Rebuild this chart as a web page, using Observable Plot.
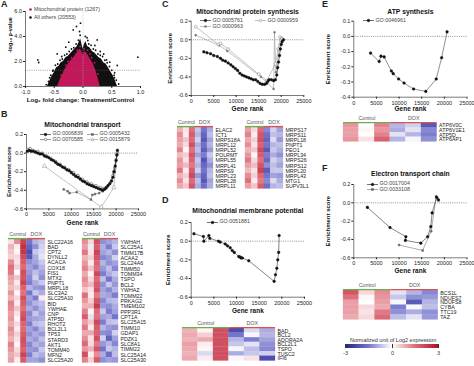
<!DOCTYPE html>
<html><head><meta charset="utf-8">
<script src="https://cdn.jsdelivr.net/npm/d3@7"></script>
<script src="https://cdn.jsdelivr.net/npm/@observablehq/plot@0.6"></script>
<style>
body{margin:0;background:#fff;}
#root{position:relative;width:474px;height:366px;overflow:hidden;font-family:"Liberation Sans",Arial,sans-serif;color:#222;}
.letter{position:absolute;font-weight:bold;font-size:9px;line-height:1;}
.leg{position:absolute;font-size:5.3px;color:#444;line-height:1;white-space:nowrap;display:flex;align-items:center;}
.leg svg{margin-right:1.5px;overflow:visible;}
.cbtitle{position:absolute;font-size:5.5px;color:#333;white-space:nowrap;line-height:1;}
</style></head>
<body><div id="root"></div>
<script>
// ---------------- DATA ----------------
// Panel A: volcano plot (envelope of the dense point cloud + individual scattered points)
const volcX      = [-0.62,-0.58,-0.54,-0.5,-0.46,-0.42,-0.38,-0.34,-0.3,-0.26,-0.22,-0.18,-0.14,-0.1,-0.07,-0.04,-0.02,0,0.02,0.05,0.08,0.12,0.16,0.2,0.24,0.28,0.32,0.36,0.4,0.44,0.48,0.52,0.56,0.6];
const volcBlackY = [0,0.4,0.8,1.1,1.5,1.6,1.9,2.0,2.3,2.4,2.6,2.8,3.0,3.2,3.5,3.8,3.4,3.0,3.3,3.6,3.2,3.1,2.8,2.7,2.5,2.3,2.2,1.9,1.8,1.5,1.2,0.9,0.5,0];
const pinkX      = [-0.44,-0.4,-0.36,-0.32,-0.28,-0.24,-0.2,-0.16,-0.12,-0.08,-0.05,-0.02,0,0.03,0.06,0.1,0.14,0.18,0.22,0.26,0.3];
const pinkY      = [0,0.5,0.9,1.3,1.6,1.9,2.1,2.3,2.6,2.8,3.0,2.8,2.5,2.8,2.7,2.4,2.1,1.8,1.3,0.7,0];
const blackPts = [[-0.786,2.13],[-0.77,1.92],[-0.525,1.23],[0.953,2.35],[0.595,1.68],[0.548,0.7],[0.466,1.95],[0.409,2.13],[0.247,3.73],[0.206,3.28],[-0.17,4.53],[-0.043,5.07],[-0.113,4.8],[-0.449,2.61],[-0.3,3.15],[-0.247,3.55],[0.084,3.68],[0.13,2.93],
  [-0.6,0.4],[-0.56,0.9],[-0.52,1.3],[-0.48,1.7],[-0.44,1.8],[-0.4,2.1],[-0.36,2.2],[-0.32,2.5],[-0.28,2.6],[-0.24,2.8],[-0.2,3.0],[-0.16,3.1],[-0.12,3.4],[-0.08,3.7],[-0.05,4.1],[-0.06,4.4],[0.04,4.0],[0.07,3.9],[0.1,3.4],[0.14,3.3],[0.18,3.0],[0.22,2.9],[0.26,2.6],[0.3,2.5],[0.34,2.4],[0.38,2.1],[0.42,1.9],[0.46,1.6],[0.5,1.3],[0.54,0.9],[0.58,0.5],[0.62,0.2],[-0.64,0.15],[0.36,2.6],[-0.37,2.4],[0.3,2.8],[-0.58,0.7],[0.55,1.1]];
const pinkPts = [[-0.2,2.3],[-0.1,2.9],[-0.05,3.2],[0.02,3.0],[0.08,2.9],[0.15,2.3],[-0.3,1.7],[0.2,1.9],[-0.38,0.9],[0.26,1.0],[-0.26,2.0],[0.12,2.6]];
const volcPThreshold = 1.3;

// Panel B: mitochondrial transport (gene rank, enrichment score)
const bGO0006839 = [[200,0.02],[600,0.03],[1000,0.02],[1500,0.02],[2000,0.01],[2500,0.0],[3000,-0.01],[3500,-0.01],[4000,-0.03],[4500,-0.04],[5000,-0.05],[5500,-0.07],[6000,-0.08],[6500,-0.1],[7000,-0.12],[7500,-0.13],[8000,-0.15],[8500,-0.16],[9000,-0.18],[9500,-0.19],[10000,-0.21],[10500,-0.23],[11000,-0.25],[11500,-0.26],[12000,-0.28],[12500,-0.3],[13000,-0.31],[13500,-0.33],[14000,-0.34],[14500,-0.35],[15000,-0.36],[15500,-0.37],[16000,-0.38],[16500,-0.39],[17000,-0.4],[17400,-0.39],[17800,-0.37],[18200,-0.35],[18600,-0.33],[19000,-0.3],[19300,-0.26],[19600,-0.2],[19800,-0.14],[20000,-0.08],[20200,-0.02],[20300,0.03]];
const bGO0070585 = [[300,0.04],[800,0.05],[1500,0.03],[2500,0.02],[3500,0.0],[4500,-0.03],[5500,-0.06],[6500,-0.09],[7500,-0.12],[8500,-0.15],[9500,-0.18],[10500,-0.21],[11500,-0.24],[12500,-0.28],[13500,-0.31],[14500,-0.33],[15500,-0.35],[16500,-0.37],[17300,-0.38],[18000,-0.36],[18800,-0.31],[19300,-0.24],[19700,-0.16],[20000,-0.07],[20300,0.01]];
const bGO0005432 = [[8300,-0.39],[9200,-0.41],[9600,-0.43],[11200,-0.42],[14400,-0.5],[14700,-0.45],[15300,-0.44],[16200,-0.43],[17000,-0.41],[17800,-0.38],[18600,-0.32],[19400,-0.2],[20100,-0.02]];
const bGO0015879 = [[4000,-0.14],[16700,-0.58],[19500,-0.37],[20200,0.0]];

// Panel C: mitochondrial protein synthesis
const cGO0005761 = [[2800,-0.13],[3500,-0.14],[4300,-0.15],[5000,-0.17],[5800,-0.18],[6500,-0.2],[7000,-0.22],[7600,-0.23],[8200,-0.25],[8800,-0.27],[9300,-0.29],[9800,-0.31],[10300,-0.33],[10800,-0.36],[11300,-0.38],[11800,-0.39],[12300,-0.4],[12800,-0.41],[13300,-0.42],[13800,-0.43],[14300,-0.43],[14800,-0.45],[15300,-0.47],[15800,-0.48],[16300,-0.48],[16700,-0.47],[17000,-0.45],[17300,-0.43],[17800,-0.43],[18300,-0.44],[18700,-0.43],[19000,-0.38],[19200,-0.3],[19400,-0.24],[19600,-0.17],[19800,-0.1],[20000,-0.05],[20200,-0.02],[20500,0.0]];
const cGO0000959 = [[1000,0.14],[6000,-0.05],[6500,-0.04],[8200,-0.1],[15000,-0.37],[16800,-0.44],[18700,-0.26],[19300,-0.1],[19700,0.03],[20200,0.01]];
const cGO0000963 = [[1000,0.05],[6200,-0.06],[8000,-0.12],[15500,-0.4],[18300,-0.53],[18500,0.08],[18800,-0.35],[19500,-0.1],[20000,0.02]];

// Panel D: mitochondrial membrane potential
const dGO0051881 = [[600,0.08],[2700,0.05],[2800,0.0],[3900,0.06],[4100,0.03],[6000,0.0],[6400,-0.01],[7500,-0.03],[8000,-0.05],[8600,-0.07],[9050,-0.1],[9500,-0.12],[10500,-0.165],[10800,-0.17],[11000,-0.18],[11300,-0.18],[12700,-0.21],[18300,-0.43],[18600,-0.36],[18900,-0.29],[19100,-0.2],[19300,-0.12],[19400,0.06]];

// Panel E: ATP synthesis
const eGO0046961 = [[3700,-0.11],[5600,-0.165],[6000,-0.13],[6700,-0.135],[8300,-0.228],[8700,-0.245],[9900,-0.28],[11100,-0.307],[13200,-0.346],[15900,-0.362],[18200,-0.28],[19400,-0.14],[20600,0.03]];

// Panel F: electron transport chain
const fGO0017004 = [[3000,-0.05],[8000,-0.27],[11500,-0.37],[11400,-0.41],[14800,-0.44],[16300,-0.37],[17000,-0.26],[17300,-0.11],[18300,0.06],[18700,0.03]];
const fGO0033108 = [[10000,-0.46],[15200,-0.52],[17100,-0.31],[18200,0.07],[18600,0.04]];

// Heatmaps (3 Control columns, 3 DOX columns; normalized log2 units)
const groups = [{label:"Control", from:0, to:3}, {label:"DOX", from:3, to:6}];
const bLeftGenes = ["SLC22A16","BAD","CPT2","DYNLL2","ACACA","COX18","FIS1","MTX2","PNPT1","MRPL18","SLC3A2","SLC25A10","BID","YWHAE","CNP","ATP5D","RHOT2","BCL2L1","TP53","STARD3","AKT1","TOMM40","MFN2","SLC25A20"];
const bLeftVals = [[0.3,1.2,2.2,-1.5,-0.8,-0.6],[0.8,0.2,2.5,-1.8,-1.2,-0.5],[0.6,0.1,2.4,-2.2,-0.6,-0.4],[0.5,0.4,2.1,-2.0,-0.9,-0.3],[1.2,0.3,1.8,-1.2,-1.0,-0.6],[1.5,0.5,1.6,-1.0,-1.3,-0.8],[1.4,0.0,2.0,-1.1,-0.7,-1.0],[1.0,0.6,1.9,-1.3,-0.5,-1.2],[0.9,0.2,2.2,-1.4,-0.9,-0.6],[0.7,0.5,1.7,-0.8,-1.1,-1.2],[1.1,0.1,1.5,-1.5,-0.6,-0.9],[0.8,0.4,2.0,-1.0,-1.4,0.2],[1.3,0.2,1.8,-1.2,-0.8,-0.7],[1.2,0.6,1.5,-0.9,-1.2,-0.8],[1.0,0.3,1.9,-1.3,-0.6,-1.0],[1.1,0.1,2.1,-1.1,-1.0,-0.9],[0.9,0.4,1.7,-1.4,-0.7,-0.6],[1.2,0.2,1.6,-1.0,-1.3,-0.8],[1.0,0.5,1.8,-1.2,-0.9,-1.1],[0.8,0.3,2.0,-0.9,-1.1,-0.7],[1.3,0.1,1.9,-1.3,-0.8,-1.0],[1.1,0.4,1.7,-1.1,-1.2,-0.6],[0.9,0.6,2.2,-1.4,-0.7,-0.9],[1.0,0.2,1.8,-1.0,-1.0,-1.2]];
const bRightGenes = ["YWHAH","SLC25A1","TIMM17B","ACAA2","SLC24A6","TIMM50","TOMM34","TSPO","BCL2","YWHAZ","TOMM22","PRKAG2","TMEM102","PPP3R1","CPT1A","SLC25A15","TIMM10","GDAP1","PDZK1","SLC8A1","TIMM22","SLC25A14","SLC25A30"];
const bRightVals = [[1.2,0.4,2.0,-1.2,-1.0,-0.8],[1.0,-0.2,1.8,-0.9,-1.4,-0.6],[1.4,0.3,2.2,-1.0,-0.8,-1.2],[0.8,0.5,1.9,-1.3,-1.1,-0.5],[1.1,0.2,1.7,-0.8,-1.2,-1.0],[1.3,0.6,1.5,-1.1,-0.7,-1.3],[0.9,0.1,2.1,-1.4,-0.9,-0.6],[1.2,0.4,1.6,-0.7,-1.5,-0.9],[1.0,0.7,1.8,-1.2,-0.6,-1.1],[0.6,0.3,2.0,-1.0,-1.3,-0.8],[1.5,0.2,1.4,-0.9,-1.0,-1.4],[1.1,0.5,1.9,-1.3,-0.8,-0.7],[0.8,0.8,2.3,-1.1,-1.2,-0.9],[1.3,0.1,1.6,-0.6,-1.4,-1.0],[1.8,-0.3,1.5,-1.0,-0.9,-1.5],[1.0,0.6,2.1,-1.4,-0.7,-0.6],[1.4,0.2,1.8,-0.8,-1.1,-1.2],[0.9,0.9,1.7,-1.2,-1.3,-0.5],[1.2,0.3,2.0,-0.5,-1.8,-1.0],[1.6,0.4,1.4,-1.1,-0.8,-1.3],[1.1,0.8,1.9,-1.5,-0.6,-0.8],[2.0,0.2,1.2,-0.9,-1.6,-0.7],[1.3,0.5,1.8,-1.2,-1.0,-1.1]];
const cLeftGenes = ["ELAC2","ICT1","MRPS18A","MRPL12","MRPL52","POLRMT","MRPL55","MRPL41","MRPS9","MRPL23","MRPL28","MRPL11"];
const cLeftVals = [[0.8,0.3,1.5,-0.6,-1.5,-0.9],[1.2,0.2,1.8,-0.8,-1.8,-0.7],[1.0,0.6,1.6,-0.5,-2.0,-1.0],[0.9,0.4,2.0,-0.9,-1.6,-0.8],[1.3,0.1,1.5,-0.7,-1.9,-1.1],[0.7,0.5,1.9,-1.0,-1.4,-0.6],[1.1,0.3,1.7,-0.6,-2.1,-0.9],[1.0,0.7,1.4,-0.8,-1.7,-1.2],[1.4,0.2,1.8,-0.5,-1.5,-0.8],[0.8,0.5,2.1,-1.1,-1.8,-0.7],[1.2,0.3,1.6,-0.7,-2.0,-1.0],[0.9,0.6,1.9,-0.9,-1.6,-0.9]];
const cRightGenes = ["MRPS17","MRPS11","MRPL18","PNPT1","PEO1","MRPL34","MRPS26","MRPS12","MRPL20","MRPL43","MTG1","SUPV3L1"];
const cRightVals = [[1.0,0.4,1.6,-1.3,-0.5,-1.0],[1.3,0.2,1.9,-1.6,-0.7,-0.8],[0.9,0.5,2.0,-1.8,-0.4,-1.1],[1.2,0.3,1.7,-1.5,-0.8,-0.7],[0.8,0.6,2.1,-2.0,-0.6,-0.9],[1.1,0.1,1.8,-1.4,-0.9,-1.2],[1.4,0.4,1.5,-1.7,-0.5,-0.8],[1.0,0.7,1.9,-1.2,-0.7,-1.0],[0.7,0.3,2.2,-1.9,-0.6,-0.6],[1.2,0.5,1.6,-1.5,-1.0,-1.1],[1.5,0.2,1.4,-1.3,-0.4,-0.9],[1.0,0.6,1.8,-1.6,-0.8,-0.7]];
const dGenes = ["BAD","BCL2","ADORA2A","BCL2L1","TSPO","TUSC2","IFI6"];
const dVals = [[0.8,0.1,2.0,-2.2,-0.4,-0.9],[0.9,0.5,2.0,-1.5,-0.1,-0.8],[0.8,0.9,2.0,-0.8,-1.4,-1.0],[1.0,0.2,2.0,-0.6,-0.3,-1.2],[0.9,0.1,2.0,-0.1,-0.7,-1.3],[0.8,-0.4,2.0,-0.9,-0.6,-0.5],[0.9,0.2,2.0,-0.1,0.3,-2.2]];
const eGenes = ["ATP6V0C","ATP6V1E1","ATP5D","ATP6AP1"];
const eVals = [[1.1,0.0,1.3,-0.8,-0.5,-2.0],[1.0,0.1,1.1,-0.9,-0.3,-1.3],[1.0,0.0,1.3,-0.3,-0.8,-1.4],[1.1,0.3,1.7,-0.8,-0.1,-1.2]];
const fGenes = ["BCS1L","NDUFS7","NDUFS8","CYBA","TTC19","TAZ"];
const fVals = [[1.9,0.4,1.2,-0.3,-0.8,-1.3],[1.5,0.1,1.1,-0.6,-1.2,-1.1],[1.0,0.0,1.0,-0.1,-2.0,-0.8],[1.0,0.4,0.9,-1.4,-0.1,-0.7],[1.0,0.3,1.4,-1.2,-0.9,-1.2],[0.9,0.4,1.6,-0.7,-0.3,-1.1]];
const colorDomain = [-3,-1.5,0,1.5,3];
const colorTicks = [-3,0,3];
const rankTicks = [0,5000,10000,15000,20000,25000];

// ---------------- RENDER ----------------
const root = document.getElementById("root");
const FONT = "Liberation Sans, Arial, sans-serif";
const STYLE = {fontFamily: FONT, fontSize: "5.5px", overflow: "visible", background: "transparent", color: "#222"};
const COLOR = {type: "linear", domain: colorDomain, range: ["#22238a", "#7474cc", "#ffffff", "#df6f7b", "#b0122a"], clamp: true};

function place(el, left, top) {
  el.style.position = "absolute";
  el.style.left = left + "px";
  el.style.top = top + "px";
  root.appendChild(el);
}
function letter(t, x, y) {
  const d = document.createElement("div"); d.className = "letter"; d.textContent = t;
  d.style.left = x + "px"; d.style.top = y + "px"; root.appendChild(d);
}
function legend(x, y, label, sym) {
  const d = document.createElement("div"); d.className = "leg";
  d.style.left = x + "px"; d.style.top = (y - 3) + "px"; d.style.height = "6px";
  let shape;
  if (sym.shape === "triangle") shape = `<path d="M5.5,0.8 L7,3.6 L4,3.6 Z" fill="${sym.fill}" stroke="${sym.stroke}" stroke-width="0.5"/>`;
  else if (sym.shape === "square") shape = `<rect x="4.4" y="1.4" width="2.2" height="2.2" fill="${sym.fill}" stroke="${sym.stroke}" stroke-width="0.4"/>`;
  else shape = `<circle cx="5.5" cy="2.5" r="${sym.r || 1.3}" fill="${sym.fill}" stroke="${sym.stroke}" stroke-width="0.5"/>`;
  d.innerHTML = `<svg width="11" height="5"><line x1="0" y1="2.5" x2="11" y2="2.5" stroke="${sym.line}" stroke-width="0.6"/>${shape}</svg><span>${label}</span>`;
  root.appendChild(d);
}

function gsea(cfg) {
  const [y0, y1] = cfg.yDomain;
  const marks = [
    Plot.ruleY([0], {x1: 0, x2: 25000, stroke: "#444", strokeWidth: 0.6, strokeDasharray: "1,1.2"}),
    Plot.ruleX([0], {y1: y0, y2: y1, stroke: "#222", strokeWidth: 0.6}),
    Plot.ruleY([y0], {x1: 0, x2: 25000, stroke: "#222", strokeWidth: 0.6})
  ];
  for (const s of cfg.series) {
    marks.push(Plot.line(s.data, {x: d => d[0], y: d => d[1], stroke: s.line, strokeWidth: 0.6}));
    marks.push(Plot.dot(s.data, {x: d => d[0], y: d => d[1], r: s.r, fill: s.fill, stroke: s.stroke, strokeWidth: 0.5, symbol: s.symbol || "circle"}));
  }
  marks.push(Plot.text([cfg.title], {frameAnchor: "top", lineAnchor: "middle", textAnchor: "middle", dy: cfg.titleDy, fontWeight: "bold", fontSize: 6.8, fill: "#111"}));
  marks.push(Plot.text(["Enrichment score"], {frameAnchor: "left", lineAnchor: "middle", textAnchor: "middle", rotate: -90, dx: cfg.labelDx, fontWeight: "bold", fontSize: 6, fill: "#111"}));
  marks.push(Plot.text(["Gene rank"], {frameAnchor: "bottom", lineAnchor: "middle", textAnchor: "middle", dy: cfg.rankDy, fontWeight: "bold", fontSize: 6.5, fill: "#111"}));
  const svg = Plot.plot({
    width: cfg.width, height: cfg.height,
    marginLeft: cfg.mL, marginRight: cfg.mR, marginTop: cfg.mT, marginBottom: cfg.mB,
    style: STYLE,
    x: {domain: [0, 25000], ticks: rankTicks, tickFormat: d => String(d), tickSize: 2, tickPadding: 1.5, label: null},
    y: {domain: cfg.yDomain, ticks: cfg.yTicks, tickFormat: d => d.toFixed(1), tickSize: 2, tickPadding: 1.5, label: null},
    marks
  });
  place(svg, cfg.left, cfg.top);
}

function heat(genes, vals, cfg) {
  const n = genes.length, mL = 1, mR = 34, mT = 10, mB = 1;
  const W = mL + 6 * cfg.cw + mR, H = mT + n * cfg.ch + mB;
  const cells = [];
  vals.forEach((row, r) => row.forEach((v, c) => cells.push({r, c, v})));
  const svg = Plot.plot({
    width: W, height: H, marginLeft: mL, marginRight: mR, marginTop: mT, marginBottom: mB,
    style: {...STYLE, fontSize: (cfg.fs || 5.3) + "px"},
    x: {domain: [0, 6], axis: null},
    y: {domain: [0, n], reverse: true, axis: null},
    color: COLOR,
    marks: [
      Plot.rect(cells, {x1: "c", x2: d => d.c + 1, y1: "r", y2: d => d.r + 1, fill: "v", stroke: "v", strokeWidth: 0.3}),
      Plot.ruleY([groups[0]], {y: () => 0, x1: "from", x2: "to", stroke: "#6ab04c", strokeWidth: 1.4, dy: -0.9}),
      Plot.ruleY([groups[1]], {y: () => 0, x1: "from", x2: "to", stroke: "#d9534f", strokeWidth: 1.4, dy: -0.9}),
      Plot.text(groups, {x: d => (d.from + d.to) / 2, y: () => 0, text: "label", dy: -4.8, fill: "#555"}),
      Plot.text(genes, {x: () => 6, y: (d, i) => i + 0.5, text: d => d, dx: 2, textAnchor: "start", fill: "#222"})
    ]
  });
  place(svg, cfg.left - mL, cfg.top - mT);
}

// ---- Panel A ----
(function () {
  const black = volcX.map((x, i) => ({x, y: volcBlackY[i]}));
  const pink = pinkX.map((x, i) => ({x, y: pinkY[i]}));
  const svg = Plot.plot({
    width: 160, height: 110, marginLeft: 25, marginRight: 20, marginTop: 11, marginBottom: 24,
    style: STYLE,
    x: {domain: [-1, 1], ticks: [-1, -0.5, 0, 0.5, 1], tickFormat: d => d.toFixed(1), tickSize: 2, tickPadding: 1.5, label: null},
    y: {domain: [0, 6], ticks: [0, 2, 4, 6], tickSize: 2, tickPadding: 1.5, label: null},
    marks: [
      Plot.areaY(black, {x: "x", y: "y", fill: "#111"}),
      Plot.dot(blackPts, {x: d => d[0], y: d => d[1], r: 0.9, fill: "#111"}),
      Plot.areaY(pink, {x: "x", y: "y", fill: "#c2185b"}),
      Plot.dot(pinkPts, {x: d => d[0], y: d => d[1], r: 0.9, fill: "#c2185b"}),
      Plot.ruleY([volcPThreshold], {x1: -1, x2: 1, stroke: "#666", strokeWidth: 0.6, strokeDasharray: "1,1.2"}),
      Plot.ruleX([0], {y1: 0, y2: 6, stroke: "#bbb", strokeWidth: 0.6, strokeDasharray: "1,1.2"}),
      Plot.ruleX([-1], {y1: 0, y2: 6, stroke: "#222", strokeWidth: 0.6}),
      Plot.ruleY([0], {x1: -1, x2: 1, stroke: "#222", strokeWidth: 0.6}),
      Plot.text(["-log\u2081\u2080 p-value"], {frameAnchor: "left", lineAnchor: "middle", textAnchor: "middle", rotate: -90, dx: -15.5, dy: -14, fontWeight: "bold", fontSize: 5.5, fill: "#111"}),
      Plot.text(["Log\u2082 fold change: Treatment/Control"], {frameAnchor: "bottom", lineAnchor: "middle", textAnchor: "middle", dx: -2.5, dy: 14, fontWeight: "bold", fontSize: 6.2, fill: "#111"})
    ]
  });
  place(svg, 0, 0);
  const l1 = document.createElement("div"); l1.className = "leg"; l1.style.left = "29px"; l1.style.top = "7px";
  l1.innerHTML = `<svg width="3" height="3" style="margin-right:2px"><circle cx="1.5" cy="1.5" r="1.3" fill="#c2185b"/></svg><span>Mitochondrial protein (1267)</span>`;
  root.appendChild(l1);
  const l2 = document.createElement("div"); l2.className = "leg"; l2.style.left = "29px"; l2.style.top = "14.5px";
  l2.innerHTML = `<svg width="3" height="3" style="margin-right:2px"><circle cx="1.5" cy="1.5" r="1.3" fill="#111"/></svg><span>All others (20553)</span>`;
  root.appendChild(l2);
})();

// ---- Panel B ----
gsea({left: 0, top: 112, width: 160, height: 120, mL: 26, mR: 22, mT: 22, mB: 23.6,
  yDomain: [-0.6, 0.2], yTicks: [-0.6, -0.4, -0.2, 0, 0.2], title: "Mitochondrial transport", titleDy: -10, labelDx: -17.7, rankDy: 13.6,
  series: [
    {data: bGO0015879, line: "#9a9a9a", r: 1.6, fill: "#fff", stroke: "#888", symbol: "triangle"},
    {data: bGO0005432, line: "#8a8a8a", r: 1.0, fill: "#666", stroke: "#666", symbol: "square"},
    {data: bGO0070585, line: "#555", r: 1.3, fill: "#fff", stroke: "#444"},
    {data: bGO0006839, line: "#111", r: 1.3, fill: "#111", stroke: "#111"}
  ]});
legend(40, 134, "GO:0006839", {line: "#111", fill: "#111", stroke: "#111"});
legend(87, 134, "GO:0005432", {line: "#666", fill: "#666", stroke: "#666", shape: "square"});
legend(40, 139.5, "GO:0070585", {line: "#555", fill: "#fff", stroke: "#444"});
legend(87, 139.5, "GO:0015879", {line: "#999", fill: "#fff", stroke: "#888", shape: "triangle"});

// ---- Panel C ----
gsea({left: 160, top: 0, width: 160, height: 115, mL: 30.7, mR: 16.7, mT: 20.7, mB: 20,
  yDomain: [-0.6, 0.2], yTicks: [-0.6, -0.4, -0.2, 0, 0.2], title: "Mitochondrial protein synthesis", titleDy: -9.5, labelDx: -20.7, rankDy: 13.3,
  series: [
    {data: cGO0000963, line: "#999", r: 1.0, fill: "#777", stroke: "#777"},
    {data: cGO0000959, line: "#999", r: 1.4, fill: "#fff", stroke: "#777"},
    {data: cGO0005761, line: "#111", r: 1.3, fill: "#111", stroke: "#111"}
  ]});
legend(200, 20.7, "GO:0005761", {line: "#111", fill: "#111", stroke: "#111"});
legend(255, 20.7, "GO:0000959", {line: "#999", fill: "#fff", stroke: "#777"});
legend(200, 26.7, "GO:0000963", {line: "#999", fill: "#777", stroke: "#777", r: 1});

// ---- Panel D ----
gsea({left: 160, top: 190, width: 160, height: 125, mL: 30.7, mR: 16, mT: 32, mB: 18.3,
  yDomain: [-0.6, 0.2], yTicks: [-0.6, -0.4, -0.2, 0, 0.2], title: "Mitochondrial membrane potential", titleDy: -12, labelDx: -23, rankDy: 14,
  series: [
    {data: dGO0051881, line: "#333", r: 1.3, fill: "#111", stroke: "#111"}
  ]});
legend(207, 222, "GO:0051881", {line: "#111", fill: "#111", stroke: "#111"});

// ---- Panel E ----
gsea({left: 320, top: 0, width: 154, height: 115, mL: 33.3, mR: 7.5, mT: 20.7, mB: 18.3,
  yDomain: [-0.4, 0.1], yTicks: [-0.4, -0.3, -0.2, -0.1, 0, 0.1], title: "ATP synthesis", titleDy: -9, labelDx: -26, rankDy: 11.6,
  series: [
    {data: eGO0046961, line: "#444", r: 1.3, fill: "#111", stroke: "#111"}
  ]});
legend(363, 20.7, "GO:0046961", {line: "#111", fill: "#111", stroke: "#111"});

// ---- Panel F ----
gsea({left: 320, top: 165, width: 154, height: 115, mL: 33.3, mR: 7.5, mT: 19, mB: 22.7,
  yDomain: [-0.6, 0.2], yTicks: [-0.6, -0.4, -0.2, 0, 0.2], title: "Electron transport chain", titleDy: -10.5, labelDx: -26, rankDy: 12.7,
  series: [
    {data: fGO0033108, line: "#777", r: 1.0, fill: "#666", stroke: "#666", symbol: "square"},
    {data: fGO0017004, line: "#333", r: 1.3, fill: "#111", stroke: "#111"}
  ]});
legend(367, 184, "GO:0017004", {line: "#111", fill: "#111", stroke: "#111"});
legend(367, 189.5, "GO:0033108", {line: "#777", fill: "#666", stroke: "#666", shape: "square"});

// ---- Heatmaps ----
heat(bLeftGenes, bLeftVals, {left: 8, top: 238.5, cw: 6.17, ch: 5.15});
heat(bRightGenes, bRightVals, {left: 82, top: 238.5, cw: 6, ch: 5.37});
heat(cLeftGenes, cLeftVals, {left: 177, top: 127, cw: 6, ch: 5.12});
heat(cRightGenes, cRightVals, {left: 245, top: 127, cw: 6.33, ch: 5.12});
heat(dGenes, dVals, {left: 182, top: 327.5, cw: 15.5, ch: 4.64});
heat(eGenes, eVals, {left: 343, top: 122.5, cw: 15.6, ch: 4.6});
heat(fGenes, fVals, {left: 343, top: 289.5, cw: 15.8, ch: 4.9});

// ---- Colour legend ----
const cb = Plot.legend({
  color: COLOR, label: null, ticks: colorTicks, tickFormat: d => String(d),
  width: 103, height: 14, marginLeft: 5, marginRight: 5, marginTop: 1, marginBottom: 9, tickSize: 0,
  style: {fontFamily: FONT, fontSize: "5.5px", background: "transparent", overflow: "visible", color: "#333"}
});
place(cb, 340, 343);
const cbt = document.createElement("div"); cbt.className = "cbtitle"; cbt.textContent = "Normalized unit of Log2 expression";
cbt.style.left = "350px"; cbt.style.top = "338px"; root.appendChild(cbt);

// ---- Panel letters ----
letter("A", 1, 0); letter("B", 1, 110); letter("C", 162, 0); letter("D", 162, 196); letter("E", 322, 0); letter("F", 322, 164);
</script>
</body></html>
